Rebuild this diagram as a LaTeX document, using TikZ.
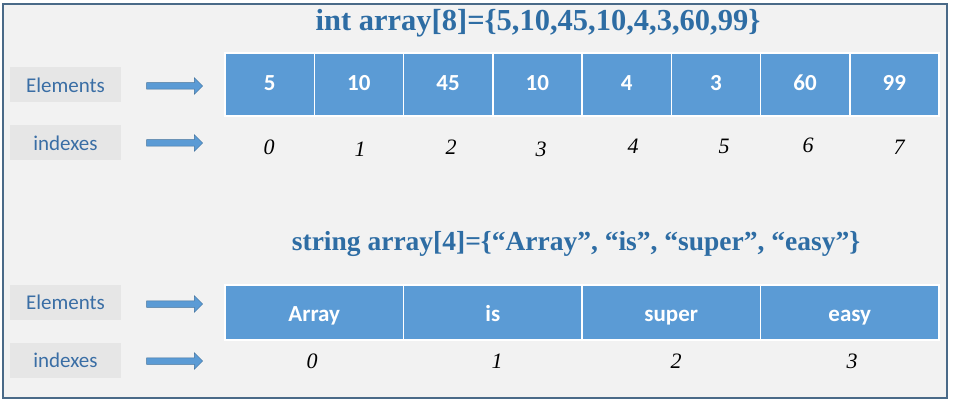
\documentclass[tikz,border=0pt]{standalone}
\usepackage{fontspec}
\setmainfont{Liberation Serif}
\newfontfamily\calfont{Carlito}
\usetikzlibrary{shapes.arrows}
\definecolor{cellblue}{HTML}{5B9BD5}
\definecolor{titleblue}{HTML}{2E6DA4}
\definecolor{labelblue}{HTML}{3A6EA5}
\definecolor{labelgray}{HTML}{E6E6E6}
\definecolor{bggray}{HTML}{F2F2F2}
\definecolor{framecol}{HTML}{4A6A88}
\definecolor{arrowedge}{HTML}{41719C}
\tikzset{
  cellbox/.style={fill=cellblue, draw=white, line width=1.5pt, inner sep=0pt, minimum height=#1},
  celltext/.style={font=\calfont\bfseries\fontsize{23}{23}\selectfont, text=white, anchor=base, inner sep=0pt},
  labelbox/.style={fill=labelgray, minimum width=111pt, minimum height=35pt, inner sep=0pt,
    font=\calfont\fontsize{21}{21}\selectfont, text=labelblue},
  blockarrow/.style={single arrow, fill=cellblue, draw=arrowedge, line width=0.5pt,
    minimum height=56pt, minimum width=16pt, inner sep=3pt, single arrow head extend=5pt},
  idx/.style={font=\itshape\fontsize{22}{22}\selectfont, text=black, inner sep=0pt},
  titletext/.style={font=\bfseries\fontsize{#1}{#1}\selectfont, text=titleblue, inner sep=0pt},
}
\begin{document}
\begin{tikzpicture}[x=1pt,y=-1pt]
\useasboundingbox (0,0) rectangle (955,403);
\fill[white] (0,0) rectangle (955,403);
\draw[fill=bggray, draw=framecol, line width=1.2pt] (3,4) rectangle (947,398);

% top title
\node[titletext=30.5, anchor=base] (t1) at (538,31) {int array[8]=\{5,10,45,10,4,3,60,99\}};

% top labels and arrows
\node[labelbox] (el1) at (65.5,85) {Elements};
\node[labelbox] (ix1) at (65.5,143) {indexes};
\node[blockarrow] (a1) at (173,86) {};
\node[blockarrow] (a2) at (173,143) {};

% top cells
\foreach \v [count=\i from 0] in {5,10,45,10,4,3,60,99} {
  \node[cellbox=63pt, minimum width=89.25pt] (c\i) at ({225+89.25*\i+44.625},84.5) {};
  \node[celltext] (ct\i) at ({225+89.25*\i+44.625},91) {\v};
}
% top indexes
\foreach \x/\y [count=\i from 0] in {269/147,360/149,451/147,541/149,633/146,724/146,808/145,899/147} {
  \node[idx] (i\i) at (\x,\y) {\i};
}

% bottom title
\node[titletext=27.5, anchor=base] (t2) at (576,251) {string array[4]=\{“Array”, “is”, “super”, “easy”\}};

% bottom labels and arrows
\node[labelbox] (el2) at (65.5,302.5) {Elements};
\node[labelbox] (ix2) at (65.5,360) {indexes};
\node[blockarrow] (a3) at (173,304) {};
\node[blockarrow] (a4) at (173,361) {};

% bottom cells
\foreach \v [count=\i from 0] in {Array,is,super,easy} {
  \node[cellbox=55pt, minimum width=178.5pt] (d\i) at ({225+178.5*\i+89.25},312.5) {};
  \node[celltext] (dt\i) at ({225+178.5*\i+89.25},321) {\v};
}
% bottom indexes
\foreach \x/\y [count=\i from 0] in {312/361,497/361,676/361,852/361} {
  \node[idx] (j\i) at (\x,\y) {\i};
}
\end{tikzpicture}
\end{document}
